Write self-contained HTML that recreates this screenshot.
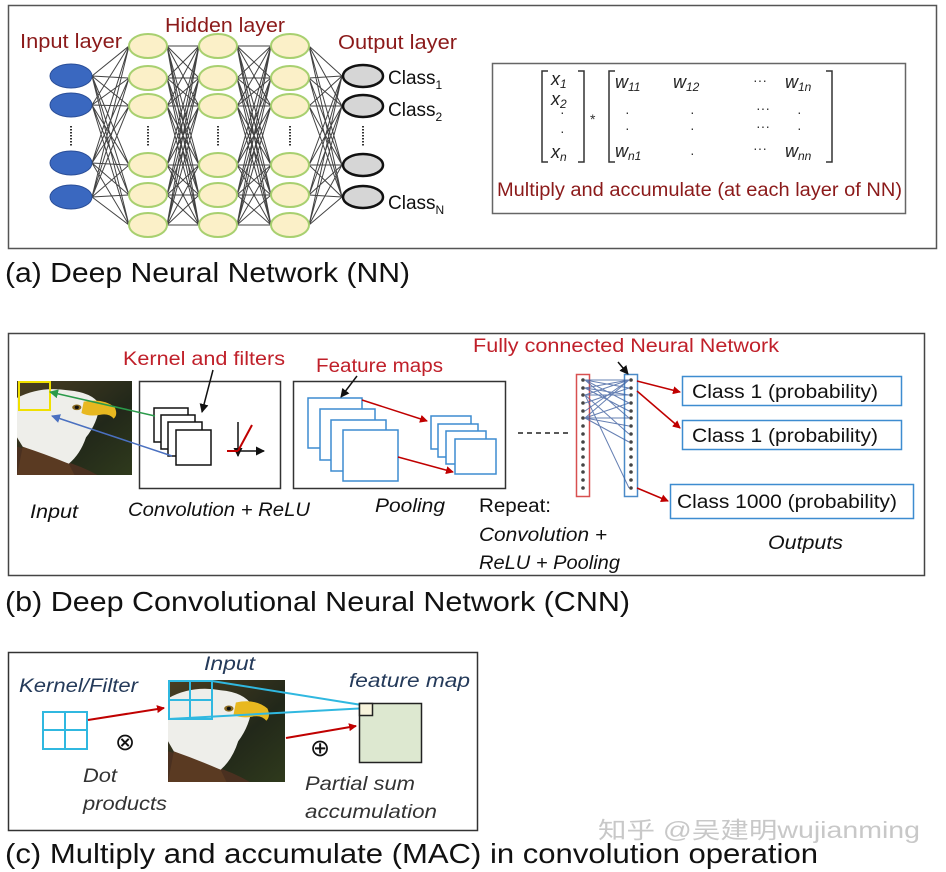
<!DOCTYPE html>
<html><head><meta charset="utf-8"><style>
html,body{margin:0;padding:0;background:#fff}
svg{display:block}
text{font-family:"Liberation Sans","DejaVu Sans",sans-serif}
</style></head><body>
<svg width="946" height="872" viewBox="0 0 946 872" xmlns="http://www.w3.org/2000/svg">
<defs>
<linearGradient id="bg" x1="0" y1="0" x2="1" y2="1"><stop offset="0" stop-color="#4a3e22"/><stop offset="0.6" stop-color="#22281a"/><stop offset="1" stop-color="#2f3a1c"/></linearGradient>
<g id="eagle">
<rect width="100" height="100" fill="url(#bg)"/>
<path d="M0 100 L0 70 Q20 75 40 85 Q55 90 70 100Z" fill="#4a3020"/>
<path d="M0 18 Q20 5 45 10 Q65 12 72 25 Q70 45 60 60 Q55 78 45 88 Q25 80 5 70 L0 60Z" fill="#eeeeea"/>
<path d="M5 70 Q25 78 45 88 L50 100 L0 100Z" fill="#5a3a22"/>
<path d="M58 22 Q75 18 85 28 Q88 36 84 40 Q80 34 72 36 Q62 38 56 34Z" fill="#e8b820"/>
<ellipse cx="52" cy="28" rx="4" ry="3" fill="#8a6a20"/>
<ellipse cx="52" cy="28" rx="1.8" ry="1.8" fill="#111"/>
</g>
<marker id="ar" markerWidth="8" markerHeight="8" refX="7" refY="4" orient="auto" markerUnits="userSpaceOnUse"><path d="M0 0L8 4L0 8Z" fill="#c00000"/></marker>
<marker id="ab" markerWidth="9" markerHeight="9" refX="8" refY="4.5" orient="auto" markerUnits="userSpaceOnUse"><path d="M0 0L9 4.5L0 9Z" fill="#111"/></marker>
<marker id="ag" markerWidth="9" markerHeight="9" refX="8" refY="4.5" orient="auto" markerUnits="userSpaceOnUse"><path d="M0 0L9 4.5L0 9Z" fill="#2a9a4a"/></marker>
<marker id="abl" markerWidth="9" markerHeight="9" refX="8" refY="4.5" orient="auto" markerUnits="userSpaceOnUse"><path d="M0 0L9 4.5L0 9Z" fill="#4a70c0"/></marker>
</defs>

<!-- Panel (a) -->
<rect x="8.5" y="5.5" width="928" height="243" fill="#fff" stroke="#555" stroke-width="1.5"/>
<g stroke="#222" stroke-width="1" fill="none" opacity="0.85">
<path d="M92 76L129 46M92 76L129 78M92 76L129 106M92 76L129 165M92 76L129 195M92 76L129 225M92 105L129 46M92 105L129 78M92 105L129 106M92 105L129 165M92 105L129 195M92 105L129 225M92 163L129 46M92 163L129 78M92 163L129 106M92 163L129 165M92 163L129 195M92 163L129 225M92 197L129 46M92 197L129 78M92 197L129 106M92 197L129 165M92 197L129 195M92 197L129 225"/>
<path d="M167 46L199 46M167 46L199 78M167 46L199 106M167 46L199 165M167 46L199 195M167 46L199 225M167 78L199 46M167 78L199 78M167 78L199 106M167 78L199 165M167 78L199 195M167 78L199 225M167 106L199 46M167 106L199 78M167 106L199 106M167 106L199 165M167 106L199 195M167 106L199 225M167 165L199 46M167 165L199 78M167 165L199 106M167 165L199 165M167 165L199 195M167 165L199 225M167 195L199 46M167 195L199 78M167 195L199 106M167 195L199 165M167 195L199 195M167 195L199 225M167 225L199 46M167 225L199 78M167 225L199 106M167 225L199 165M167 225L199 195M167 225L199 225"/>
<path d="M237 46L271 46M237 46L271 78M237 46L271 106M237 46L271 165M237 46L271 195M237 46L271 225M237 78L271 46M237 78L271 78M237 78L271 106M237 78L271 165M237 78L271 195M237 78L271 225M237 106L271 46M237 106L271 78M237 106L271 106M237 106L271 165M237 106L271 195M237 106L271 225M237 165L271 46M237 165L271 78M237 165L271 106M237 165L271 165M237 165L271 195M237 165L271 225M237 195L271 46M237 195L271 78M237 195L271 106M237 195L271 165M237 195L271 195M237 195L271 225M237 225L271 46M237 225L271 78M237 225L271 106M237 225L271 165M237 225L271 195M237 225L271 225"/>
<path d="M309 46L342 76M309 46L342 106M309 46L342 165M309 46L342 197M309 78L342 76M309 78L342 106M309 78L342 165M309 78L342 197M309 106L342 76M309 106L342 106M309 106L342 165M309 106L342 197M309 165L342 76M309 165L342 106M309 165L342 165M309 165L342 197M309 195L342 76M309 195L342 106M309 195L342 165M309 195L342 197M309 225L342 76M309 225L342 106M309 225L342 165M309 225L342 197"/>
</g>
<g fill="#3a68c0" stroke="#2a4e98" stroke-width="1">
<ellipse cx="71" cy="76" rx="21" ry="12"/><ellipse cx="71" cy="105" rx="21" ry="12"/><ellipse cx="71" cy="163" rx="21" ry="12"/><ellipse cx="71" cy="197" rx="21" ry="12"/>
</g>
<g fill="#fbf0c8" stroke="#a8d070" stroke-width="2">
<ellipse cx="148" cy="46" rx="19" ry="12"/><ellipse cx="148" cy="78" rx="19" ry="12"/><ellipse cx="148" cy="106" rx="19" ry="12"/><ellipse cx="148" cy="165" rx="19" ry="12"/><ellipse cx="148" cy="195" rx="19" ry="12"/><ellipse cx="148" cy="225" rx="19" ry="12"/>
<ellipse cx="218" cy="46" rx="19" ry="12"/><ellipse cx="218" cy="78" rx="19" ry="12"/><ellipse cx="218" cy="106" rx="19" ry="12"/><ellipse cx="218" cy="165" rx="19" ry="12"/><ellipse cx="218" cy="195" rx="19" ry="12"/><ellipse cx="218" cy="225" rx="19" ry="12"/>
<ellipse cx="290" cy="46" rx="19" ry="12"/><ellipse cx="290" cy="78" rx="19" ry="12"/><ellipse cx="290" cy="106" rx="19" ry="12"/><ellipse cx="290" cy="165" rx="19" ry="12"/><ellipse cx="290" cy="195" rx="19" ry="12"/><ellipse cx="290" cy="225" rx="19" ry="12"/>
</g>
<g fill="#d6d6d6" stroke="#111" stroke-width="2.5">
<ellipse cx="363" cy="76" rx="20" ry="11"/><ellipse cx="363" cy="106" rx="20" ry="11"/><ellipse cx="363" cy="165" rx="20" ry="11"/><ellipse cx="363" cy="197" rx="20" ry="11"/>
</g>
<g stroke="#333" stroke-width="2" stroke-dasharray="1.5 1.5">
<line x1="71" y1="126" x2="71" y2="146"/><line x1="148" y1="126" x2="148" y2="146"/><line x1="218" y1="126" x2="218" y2="146"/><line x1="290" y1="126" x2="290" y2="146"/><line x1="363" y1="126" x2="363" y2="146"/>
</g>
<g fill="#8b1a1a" font-size="20" lengthAdjust="spacingAndGlyphs">
<text x="20" y="48" textLength="102" lengthAdjust="spacingAndGlyphs">Input layer</text><text x="165" y="32" textLength="120" lengthAdjust="spacingAndGlyphs">Hidden layer</text><text x="338" y="49" textLength="119" lengthAdjust="spacingAndGlyphs">Output layer</text>
</g>
<g fill="#111" font-size="19">
<text x="388" y="84">Class<tspan font-size="12" dy="5">1</tspan></text>
<text x="388" y="116">Class<tspan font-size="12" dy="5">2</tspan></text>
<text x="388" y="209">Class<tspan font-size="12" dy="5">N</tspan></text>
</g>
<rect x="492.5" y="63.5" width="413" height="150" fill="#fff" stroke="#666" stroke-width="1.5"/>
<g fill="none" stroke="#333" stroke-width="1.5">
<path d="M548 71H542V162H548"/><path d="M578 71H584V162H578"/>
<path d="M615 71H609V162H615"/><path d="M826 71H832V162H826"/>
</g>
<g fill="#222" font-family="Liberation Serif,serif" font-style="italic" font-size="18">
<text x="551" y="85">x<tspan font-size="12" dy="3">1</tspan></text>
<text x="551" y="105">x<tspan font-size="12" dy="3">2</tspan></text>
<text x="551" y="158">x<tspan font-size="12" dy="3">n</tspan></text>
<text x="615" y="88">w<tspan font-size="12" dy="3">11</tspan></text>
<text x="673" y="88">w<tspan font-size="12" dy="3">12</tspan></text>
<text x="785" y="88">w<tspan font-size="12" dy="3">1n</tspan></text>
<text x="615" y="157">w<tspan font-size="12" dy="3">n1</tspan></text>
<text x="785" y="157">w<tspan font-size="12" dy="3">nn</tspan></text>
</g>
<g fill="#333" font-size="14">
<text x="560" y="117">·</text><text x="560" y="136">·</text><text x="590" y="124">*</text>
<text x="625" y="117">·</text><text x="625" y="133">·</text><text x="690" y="117">·</text><text x="690" y="133">·</text><text x="690" y="158">·</text>
<text x="753" y="85">···</text><text x="756" y="113">···</text><text x="756" y="131">···</text><text x="753" y="153">···</text>
<text x="797" y="117">·</text><text x="797" y="133">·</text>
</g>
<text x="497" y="196" fill="#8b1a1a" font-size="19" textLength="405" lengthAdjust="spacingAndGlyphs">Multiply and accumulate (at each layer of NN)</text>
<text x="5" y="282" fill="#111" font-size="28" textLength="405" lengthAdjust="spacingAndGlyphs">(a) Deep Neural Network (NN)</text>

<!-- Panel (b) -->
<rect x="8.5" y="333.5" width="916" height="242" fill="#fff" stroke="#444" stroke-width="1.5"/>
<use href="#eagle" transform="translate(17,381) scale(1.15,0.94)"/>
<rect x="19" y="382" width="31" height="28" fill="none" stroke="#f0e000" stroke-width="2"/>
<rect x="139.5" y="381.5" width="141" height="107" fill="#fff" stroke="#333" stroke-width="1.5"/>
<g fill="#fff" stroke="#111" stroke-width="1.5">
<rect x="154" y="408" width="34" height="34"/><rect x="161" y="415" width="34" height="34"/><rect x="168" y="422" width="34" height="34"/><rect x="176" y="430" width="35" height="35"/>
</g>
<line x1="155" y1="416" x2="50" y2="392" stroke="#2a9a4a" stroke-width="1.5" marker-end="url(#ag)"/>
<line x1="172" y1="456" x2="52" y2="416" stroke="#4a70c0" stroke-width="1.5" marker-end="url(#abl)"/>
<line x1="213" y1="370" x2="202" y2="412" stroke="#111" stroke-width="1.5" marker-end="url(#ab)"/>
<line x1="238" y1="422" x2="238" y2="456" stroke="#111" stroke-width="1.5" marker-end="url(#ab)"/>
<line x1="228" y1="451" x2="264" y2="451" stroke="#111" stroke-width="1.5" marker-end="url(#ab)"/>
<line x1="227" y1="451" x2="238" y2="451" stroke="#c00000" stroke-width="2"/>
<line x1="238" y1="451" x2="252" y2="425" stroke="#c00000" stroke-width="2"/>
<rect x="293.5" y="381.5" width="212" height="107" fill="#fff" stroke="#333" stroke-width="1.5"/>
<g fill="#fff" stroke="#3d8cd0" stroke-width="1.5">
<rect x="308" y="398" width="54" height="50"/><rect x="320" y="409" width="55" height="51"/><rect x="331" y="420" width="55" height="51"/><rect x="343" y="430" width="55" height="51"/>
<rect x="431" y="416" width="40" height="33"/><rect x="438" y="424" width="40" height="33"/><rect x="446" y="431" width="40" height="33"/><rect x="455" y="439" width="41" height="35"/>
</g>
<line x1="362" y1="400" x2="427" y2="421" stroke="#c00000" stroke-width="1.5" marker-end="url(#ar)"/>
<line x1="398" y1="457" x2="453" y2="472" stroke="#c00000" stroke-width="1.5" marker-end="url(#ar)"/>
<line x1="357" y1="376" x2="341" y2="397" stroke="#111" stroke-width="1.5" marker-end="url(#ab)"/>
<line x1="518" y1="433" x2="572" y2="433" stroke="#222" stroke-width="1.5" stroke-dasharray="5 4"/>
<rect x="576.5" y="374.5" width="13" height="122" fill="#fff" stroke="#d85050" stroke-width="1.5"/>
<rect x="624.5" y="374.5" width="13" height="122" fill="#fff" stroke="#4a8ac8" stroke-width="1.5"/>
<g fill="#444">
<circle cx="583" cy="380" r="1.8"/><circle cx="583" cy="388" r="1.8"/><circle cx="583" cy="395" r="1.8"/><circle cx="583" cy="403" r="1.8"/><circle cx="583" cy="411" r="1.8"/><circle cx="583" cy="418" r="1.8"/><circle cx="583" cy="426" r="1.8"/><circle cx="583" cy="434" r="1.8"/><circle cx="583" cy="442" r="1.8"/><circle cx="583" cy="449" r="1.8"/><circle cx="583" cy="457" r="1.8"/><circle cx="583" cy="465" r="1.8"/><circle cx="583" cy="472" r="1.8"/><circle cx="583" cy="480" r="1.8"/><circle cx="583" cy="488" r="1.8"/>
<circle cx="631" cy="380" r="1.8"/><circle cx="631" cy="388" r="1.8"/><circle cx="631" cy="395" r="1.8"/><circle cx="631" cy="403" r="1.8"/><circle cx="631" cy="411" r="1.8"/><circle cx="631" cy="418" r="1.8"/><circle cx="631" cy="426" r="1.8"/><circle cx="631" cy="434" r="1.8"/><circle cx="631" cy="442" r="1.8"/><circle cx="631" cy="449" r="1.8"/><circle cx="631" cy="457" r="1.8"/><circle cx="631" cy="465" r="1.8"/><circle cx="631" cy="472" r="1.8"/><circle cx="631" cy="480" r="1.8"/><circle cx="631" cy="488" r="1.8"/>
</g>
<g stroke="#4060a0" stroke-width="1" fill="none" opacity="0.8">
<path d="M585 380L629 380M585 380L629 388M585 380L629 403M585 380L629 418M585 388L629 380M585 388L629 395M585 388L629 411M585 395L629 380M585 395L629 395M585 395L629 434M585 395L629 488M585 418L629 380M585 418L629 403M585 418L629 418M585 418L629 426M585 418L629 442M585 403L629 388M585 411L629 380"/>
</g>
<line x1="618" y1="362" x2="628" y2="374" stroke="#111" stroke-width="1.5" marker-end="url(#ab)"/>
<line x1="637" y1="381" x2="680" y2="392" stroke="#c00000" stroke-width="1.5" marker-end="url(#ar)"/>
<line x1="637" y1="391" x2="680" y2="428" stroke="#c00000" stroke-width="1.5" marker-end="url(#ar)"/>
<line x1="637" y1="488" x2="668" y2="501" stroke="#c00000" stroke-width="1.5" marker-end="url(#ar)"/>
<g fill="#fff" stroke="#3d8cd0" stroke-width="1.5">
<rect x="682.5" y="376.5" width="219" height="29"/><rect x="682.5" y="420.5" width="219" height="29"/><rect x="670.5" y="484.5" width="243" height="34"/>
</g>
<g fill="#111" font-size="19">
<text x="692" y="398" textLength="186" lengthAdjust="spacingAndGlyphs">Class 1 (probability)</text><text x="692" y="442" textLength="186" lengthAdjust="spacingAndGlyphs">Class 1 (probability)</text><text x="677" y="508" textLength="220" lengthAdjust="spacingAndGlyphs">Class 1000 (probability)</text>
<text x="479" y="512" textLength="72" lengthAdjust="spacingAndGlyphs">Repeat:</text>
</g>
<g fill="#111" font-size="19" font-style="italic">
<text x="30" y="518" textLength="48" lengthAdjust="spacingAndGlyphs">Input</text><text x="128" y="516" textLength="182" lengthAdjust="spacingAndGlyphs">Convolution + ReLU</text><text x="375" y="512" textLength="70" lengthAdjust="spacingAndGlyphs">Pooling</text>
<text x="479" y="541" textLength="128" lengthAdjust="spacingAndGlyphs">Convolution +</text><text x="479" y="569" textLength="141" lengthAdjust="spacingAndGlyphs">ReLU + Pooling</text><text x="768" y="549" textLength="75" lengthAdjust="spacingAndGlyphs">Outputs</text>
</g>
<g fill="#c0202a" font-size="19">
<text x="123" y="365" textLength="162" lengthAdjust="spacingAndGlyphs">Kernel and filters</text><text x="316" y="372" textLength="127" lengthAdjust="spacingAndGlyphs">Feature maps</text><text x="473" y="352" textLength="306" lengthAdjust="spacingAndGlyphs">Fully connected Neural Network</text>
</g>
<text x="5" y="611" fill="#111" font-size="28" textLength="625" lengthAdjust="spacingAndGlyphs">(b) Deep Convolutional Neural Network (CNN)</text>

<!-- Panel (c) -->
<rect x="8.5" y="652.5" width="469" height="178" fill="#fff" stroke="#333" stroke-width="1.5"/>
<use href="#eagle" transform="translate(168,680) scale(1.17,1.02)"/>
<g fill="none" stroke="#30b8e0" stroke-width="2">
<rect x="43" y="712" width="44" height="37"/><line x1="65" y1="712" x2="65" y2="749"/><line x1="43" y1="730" x2="87" y2="730"/>
<rect x="169" y="681" width="43" height="38"/><line x1="190" y1="681" x2="190" y2="719"/><line x1="169" y1="700" x2="212" y2="700"/>
<line x1="212" y1="681" x2="368" y2="706"/><line x1="169" y1="719" x2="368" y2="708"/>
</g>
<line x1="88" y1="720" x2="164" y2="708" stroke="#c00000" stroke-width="2" marker-end="url(#ar)"/>
<line x1="286" y1="738" x2="356" y2="726" stroke="#c00000" stroke-width="2" marker-end="url(#ar)"/>
<rect x="359.5" y="703.5" width="62" height="59" fill="#dde8d0" stroke="#222" stroke-width="1.5"/>
<rect x="359.5" y="703.5" width="13" height="12" fill="#f8f4dc" stroke="#222" stroke-width="1.5"/>
<text x="115" y="750" font-size="24" fill="#111" font-family="DejaVu Sans,sans-serif">⊗</text>
<text x="310" y="756" font-size="24" fill="#111" font-family="DejaVu Sans,sans-serif">⊕</text>
<g fill="#243a5a" font-size="19" font-style="italic">
<text x="19" y="692" textLength="119" lengthAdjust="spacingAndGlyphs">Kernel/Filter</text><text x="204" y="670" textLength="51" lengthAdjust="spacingAndGlyphs">Input</text><text x="349" y="687" textLength="121" lengthAdjust="spacingAndGlyphs">feature map</text>
</g>
<g fill="#333" font-size="19" font-style="italic">
<text x="83" y="782" textLength="34" lengthAdjust="spacingAndGlyphs">Dot</text><text x="83" y="810" textLength="84" lengthAdjust="spacingAndGlyphs">products</text>
<text x="305" y="790" textLength="110" lengthAdjust="spacingAndGlyphs">Partial sum</text><text x="305" y="818" textLength="132" lengthAdjust="spacingAndGlyphs">accumulation</text>
</g>
<text x="598" y="838" fill="#c8c8c8" font-size="23" textLength="322" lengthAdjust="spacingAndGlyphs" font-family="Liberation Sans,'Noto Sans CJK SC',sans-serif">知乎 @吴建明wujianming</text>
<text x="5" y="863" fill="#111" font-size="28" textLength="813" lengthAdjust="spacingAndGlyphs">(c) Multiply and accumulate (MAC) in convolution operation</text>
</svg>
</body></html>
